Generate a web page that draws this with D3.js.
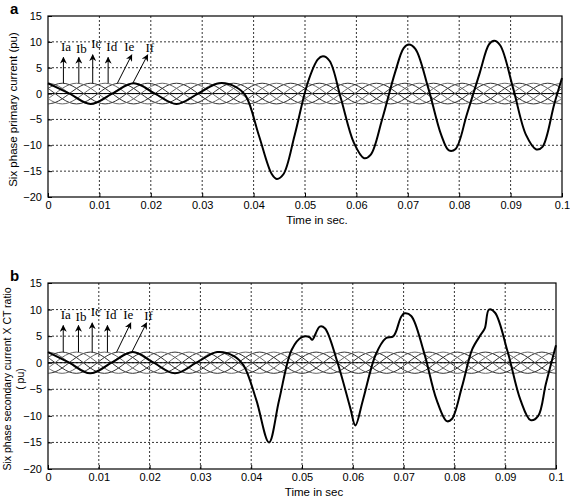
<!DOCTYPE html>
<html><head><meta charset="utf-8">
<script src="https://cdn.jsdelivr.net/npm/d3@7"></script>
<style>body{margin:0;background:#fff}</style>
</head><body><svg id="c" width="570" height="499" font-family="Liberation Sans, Arial, sans-serif"></svg>
<script>
// x ticks and y ticks
var xTicks = [0, 0.01, 0.02, 0.03, 0.04, 0.05, 0.06, 0.07, 0.08, 0.09, 0.1];
var yTicks = [15, 10, 5, 0, -5, -10, -15, -20];
// healthy phase waveform, one cycle in 30 degree steps (pu)
var phaseWave = [2, 1.73, 1, 0, -1, -1.73, -2, -1.73, -1, 0, 1, 1.73];
var phaseShift = [0, 2, 4, 6, 8, 10];
var phaseNames = ["Ia", "Ib", "Ic", "Id", "Ie", "If"];
// thick faulted phase, primary (a)
var faultA_t = [0,0.0042,0.0083,0.0125,0.0167,0.0208,0.025,0.0292,0.0333,0.0365,0.0385,0.041,0.0435,0.0445,0.0458,0.048,0.0505,0.0525,0.0535,0.0548,0.057,0.0595,0.0615,0.0628,0.065,0.0675,0.0692,0.0702,0.0715,0.074,0.0765,0.078,0.0793,0.0815,0.084,0.0858,0.0868,0.088,0.0905,0.093,0.095,0.0962,0.0985,0.1];
var faultA_v = [2,0,-2,0,2,0,-2,0,2,1.3,-0.5,-8,-15.5,-16.5,-15.6,-8,2,6.6,7.2,6.3,-1,-9.5,-12.5,-11.8,-5,4,8.8,9.5,8.6,1,-8,-11,-10.7,-4,4,9.5,10.2,9.3,1,-8,-10.8,-10.3,-2,3];
// thick faulted phase, secondary x CT ratio (b)
var faultB_t = [0,0.0042,0.0083,0.0125,0.0167,0.0208,0.025,0.0292,0.0333,0.0365,0.0385,0.041,0.0435,0.0455,0.048,0.05,0.0515,0.052,0.0535,0.0545,0.057,0.0595,0.0605,0.062,0.0645,0.0665,0.068,0.0695,0.0702,0.0715,0.074,0.0765,0.0785,0.0795,0.0815,0.0835,0.0852,0.086,0.0868,0.088,0.0905,0.093,0.095,0.0965,0.098,0.1];
var faultB_v = [2,0,-2,0,2,0,-2,0,2,1.3,-0.5,-7,-15,-7,2.5,4.8,4.8,4.3,6.8,6.5,0,-8.5,-11.8,-7,1.5,4.6,5,8.6,9.3,8.8,2,-7,-11,-10.6,-4.5,2.5,5.3,6.5,10,9.4,2,-7,-10.8,-10,-4,3.3];

var svg = d3.select("#c");
var panels = [
  {tag: "a", top: 16, bottom: 197, right: 562, t: faultA_t, v: faultA_v, xlabel: "Time in sec.", ylabel: ["Six phase primary current (pu)"]},
  {tag: "b", top: 283, bottom: 469, right: 556, t: faultB_t, v: faultB_v, xlabel: "Time in sec", ylabel: ["Six phase secondary current  X CT ratio", "( pu)"]}
];
var defs = svg.append("defs");
defs.append("marker").attr("id", "arr").attr("viewBox", "0 0 10 10").attr("refX", 9).attr("refY", 5)
  .attr("markerWidth", 7).attr("markerHeight", 7).attr("orient", "auto")
  .append("path").attr("d", "M0,0L10,5L0,10L3,5Z").attr("fill", "#000");

// label anchor points in data coords: arrow base, arrow tip, label
var arrowBase = [[0.003,2],[0.006,2],[0.0087,2],[0.0117,2],[0.0135,2],[0.0165,2]];
var arrowTip = [[0.003,7],[0.006,7],[0.0087,7.5],[0.0117,7],[0.0163,7.5],[0.0194,7.5]];
var labelPos = [[0.0035,8.3],[0.0065,7.9],[0.0094,8.8],[0.0124,8.3],[0.0158,8.3],[0.0198,8.1]];

panels.forEach(function(p) {
  var x = d3.scaleLinear().domain([0, 0.1]).range([48, p.right]);
  var y = d3.scaleLinear().domain([-20, 15]).range([p.bottom, p.top]);
  var g = svg.append("g");
  // grid
  g.selectAll(".gx").data(xTicks.slice(1, -1)).enter().append("line")
    .attr("x1", x).attr("x2", x).attr("y1", p.top).attr("y2", p.bottom)
    .attr("stroke", "#000").attr("stroke-width", 0.8).attr("stroke-dasharray", "2,2");
  g.selectAll(".gy").data(yTicks.slice(1, -1)).enter().append("line")
    .attr("x1", 48).attr("x2", p.right).attr("y1", y).attr("y2", y)
    .attr("stroke", "#000").attr("stroke-width", 0.8).attr("stroke-dasharray", "2,2");
  var xa = g.append("g").attr("transform", "translate(0," + p.bottom + ")")
    .call(d3.axisBottom(x).tickValues(xTicks).tickFormat(d3.format("")).tickSize(-4).tickPadding(4));
  var ya = g.append("g").attr("transform", "translate(48,0)")
    .call(d3.axisLeft(y).tickValues(yTicks).tickSize(-4).tickPadding(6));
  [xa, ya].forEach(function(a) {
    a.select(".domain").remove();
    a.selectAll("text").attr("font-size", 11).attr("fill", "#000").attr("font-family", "Liberation Sans, Arial, sans-serif");
  });
  g.append("rect").attr("x", 48).attr("y", p.top).attr("width", p.right - 48).attr("height", p.bottom - p.top)
    .attr("fill", "none").attr("stroke", "#000").attr("stroke-width", 1.2);
  // zero line
  g.append("line").attr("x1", 48).attr("x2", p.right).attr("y1", y(0)).attr("y2", y(0)).attr("stroke", "#000").attr("stroke-width", 1);

  var line = d3.line().x(function(d) { return x(d[0]); }).y(function(d) { return y(d[1]); });
  // six healthy phases
  phaseShift.forEach(function(s, k) {
    var pts = d3.range(0, 73).map(function(i) {
      return [i / 720, phaseWave[(i + s) % 12]];
    });
    g.append("path").attr("d", line.curve(d3.curveCardinal)(pts))
      .attr("fill", "none").attr("stroke", k % 2 ? "#333" : "#666").attr("stroke-width", 1);
  });
  // faulted phase
  var fpts = p.t.map(function(t, i) { return [t, p.v[i]]; });
  g.append("path").attr("d", line.curve(d3.curveCatmullRom)(fpts))
    .attr("fill", "none").attr("stroke", "#000").attr("stroke-width", 2);

  // phase labels with arrows
  phaseNames.forEach(function(n, i) {
    g.append("line").attr("x1", x(arrowBase[i][0])).attr("y1", y(arrowBase[i][1]))
      .attr("x2", x(arrowTip[i][0])).attr("y2", y(arrowTip[i][1]))
      .attr("stroke", "#000").attr("stroke-width", 1).attr("marker-end", "url(#arr)");
    g.append("text").attr("x", x(labelPos[i][0])).attr("y", y(labelPos[i][1]))
      .attr("text-anchor", "middle").attr("font-family", "Liberation Serif, serif").attr("font-size", 13)
      .text(n);
  });

  g.append("text").attr("x", (48 + p.right) / 2 + 12).attr("y", p.bottom + 27).attr("text-anchor", "middle")
    .attr("font-size", 11.5).text(p.xlabel);
  p.ylabel.forEach(function(l, i) {
    g.append("text").attr("transform", "translate(" + (17 + i * 13 - (p.ylabel.length - 1) * 6) + "," + ((p.top + p.bottom) / 2 + 3) + ") rotate(-90)")
      .attr("text-anchor", "middle").attr("font-size", p.ylabel.length > 1 ? 10.5 : 11.5).text(l);
  });
  g.append("text").attr("x", 10).attr("y", p.top - 2).attr("font-size", 15).attr("font-weight", "bold").text(p.tag);
});
</script></body></html>
